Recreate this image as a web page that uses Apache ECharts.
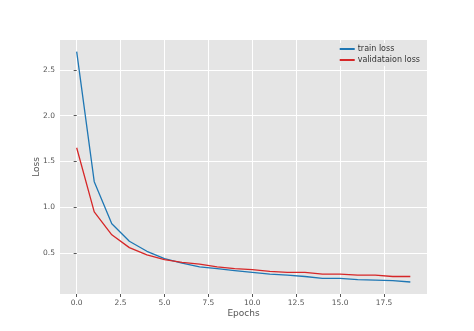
<!DOCTYPE html>
<html>
<head>
<meta charset="utf-8">
<script src="https://cdn.jsdelivr.net/npm/echarts@6/dist/echarts.min.js"></script>
<style>
  html, body { margin: 0; padding: 0; background: #fff; }
  #main { width: 474px; height: 331px; }
</style>
</head>
<body>
<div id="main"></div>
<script>
// loss per epoch
const epochs = [0, 1, 2, 3, 4, 5, 6, 7, 8, 9, 10, 11, 12, 13, 14, 15, 16, 17, 18, 19];
const trainLoss = [2.70, 1.28, 0.82, 0.63, 0.52, 0.44, 0.39, 0.35, 0.33, 0.31, 0.29, 0.27, 0.26, 0.245, 0.225, 0.225, 0.21, 0.205, 0.20, 0.185];
const valLoss = [1.65, 0.95, 0.70, 0.56, 0.48, 0.43, 0.40, 0.38, 0.35, 0.33, 0.32, 0.30, 0.29, 0.29, 0.27, 0.27, 0.26, 0.26, 0.245, 0.245];
const xTicks = [0, 2.5, 5, 7.5, 10, 12.5, 15, 17.5];
const yTicks = [0.5, 1.0, 1.5, 2.0, 2.5];

const font = 'DejaVu Sans';
const chart = echarts.init(document.getElementById('main'));

chart.setOption({
  backgroundColor: '#fff',
  animation: false,
  textStyle: { fontFamily: font },
  grid: { left: 60, top: 40, right: 47, bottom: 37, show: true, backgroundColor: '#E5E5E5', borderWidth: 0 },
  legend: {
    right: 50, top: 43,
    orient: 'vertical',
    itemWidth: 15, itemHeight: 2, itemGap: 3,
    backgroundColor: 'rgba(229,229,229,0.8)',
    padding: [2, 4],
    icon: 'rect',
    textStyle: { fontFamily: font, fontSize: 8, color: '#333', padding: [0, 0, 0, -2] },
    data: ['train loss', 'validataion loss']
  },
  xAxis: {
    type: 'value',
    min: -0.95, max: 19.95,
    name: 'Epochs', nameLocation: 'middle', nameGap: 15, nameMoveOverlap: false,
    nameTextStyle: { fontFamily: font, fontSize: 9, color: '#555', verticalAlign: 'top' },
    axisLine: { show: false },
    axisTick: { show: true, length: 3, lineStyle: { color: '#555' }, customValues: xTicks },
    axisLabel: { fontSize: 7.5, color: '#555', margin: 5, customValues: xTicks,
      formatter: v => v.toFixed(1) },
    splitLine: { show: true, lineStyle: { color: '#fff', width: 1 } }
  },
  yAxis: {
    type: 'value',
    min: 0.054, max: 2.826,
    name: 'Loss', nameLocation: 'middle', nameGap: 19, nameMoveOverlap: false,
    nameTextStyle: { fontFamily: font, fontSize: 9, color: '#555' },
    axisLine: { show: false },
    axisTick: { show: true, length: 3, lineStyle: { color: '#555' }, customValues: yTicks },
    axisLabel: { fontSize: 7.5, color: '#555', margin: 5, customValues: yTicks,
      formatter: v => v.toFixed(1) },
    splitLine: { show: true, lineStyle: { color: '#fff', width: 1 } }
  },
  series: [
    {
      name: 'train loss', type: 'line', showSymbol: false, symbol: 'none',
      data: epochs.map((e, i) => [e, trainLoss[i]]),
      lineStyle: { color: '#1f77b4', width: 1.3 }, itemStyle: { color: '#1f77b4' }
    },
    {
      name: 'validataion loss', type: 'line', showSymbol: false, symbol: 'none',
      data: epochs.map((e, i) => [e, valLoss[i]]),
      lineStyle: { color: '#d62728', width: 1.3 }, itemStyle: { color: '#d62728' }
    }
  ]
});
</script>
</body>
</html>
